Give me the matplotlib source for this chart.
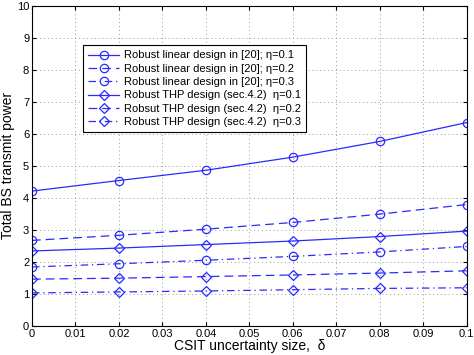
import matplotlib
matplotlib.use('Agg')
from matplotlib import pyplot as plt

plt.rcParams['font.family'] = ['Liberation Sans', 'DejaVu Sans']

delta = [0, 0.02, 0.04, 0.06, 0.08, 0.1]
lin_01 = [4.21, 4.54, 4.86, 5.27, 5.76, 6.35]
lin_02 = [2.67, 2.83, 3.02, 3.23, 3.49, 3.79]
lin_03 = [1.84, 1.94, 2.05, 2.17, 2.31, 2.48]
thp_01 = [2.34, 2.43, 2.54, 2.65, 2.79, 2.96]
thp_02 = [1.46, 1.49, 1.54, 1.59, 1.65, 1.72]
thp_03 = [1.03, 1.06, 1.09, 1.13, 1.17, 1.19]

labels = [
    'Robust linear design in [20]; \u03b7=0.1',
    'Robust linear design in [20]; \u03b7=0.2',
    'Robust linear design in [20]; \u03b7=0.3',
    'Robust THP design (sec.4.2)  \u03b7=0.1',
    'Robsut THP design (sec.4.2)  \u03b7=0.2',
    'Robust THP design (sec.4.2)  \u03b7=0.3',
]

fig = plt.figure(figsize=(4.74, 3.55), dpi=100)
ax = fig.add_axes([0.0675, 0.082, 0.917, 0.902])

col = '#2a2aff'
dash = (0, (7, 4))
dashdot = (0, (6, 3, 1, 3))
styles = [('-', 'o', 6), (dash, 'o', 6), (dashdot, 'o', 6),
          ('-', 'D', 4.8), (dash, 'D', 4.8), (dashdot, 'D', 4.8)]
series = [lin_01, lin_02, lin_03, thp_01, thp_02, thp_03]
for ys, (ls, mk, ms), lab in zip(series, styles, labels):
    ax.plot(delta, ys, linestyle=ls, marker=mk, color=col, lw=0.9,
            markersize=ms, markerfacecolor='none', markeredgewidth=0.9, label=lab)

ax.set_xlim(0, 0.1)
ax.set_ylim(0, 10)
ax.set_xticks([i / 100 for i in range(11)])
ax.set_xticklabels(['0', '0.01', '0.02', '0.03', '0.04', '0.05', '0.06', '0.07', '0.08', '0.09', '0.1'])
ax.set_yticks(range(11))
ax.grid(True, linestyle=(0, (1, 3)), color='#999999', lw=0.7)
ax.tick_params(direction='in', top=True, right=True, labelsize=8, length=3, pad=2)
for s in ax.spines.values():
    s.set_linewidth(0.8)
ax.set_xlabel('CSIT uncertainty size,  \u03b4', fontsize=10, labelpad=0)
ax.set_ylabel('Total BS transmit power', fontsize=10, labelpad=1)

leg = ax.legend(loc='upper left', bbox_to_anchor=(0.105, 0.893), fontsize=8,
                frameon=True, fancybox=False, edgecolor='black', framealpha=1,
                handlelength=2.8, handletextpad=0.4, labelspacing=0.3, borderpad=0.45)
leg.get_frame().set_linewidth(0.8)

plt.savefig('out.png', dpi=100)
